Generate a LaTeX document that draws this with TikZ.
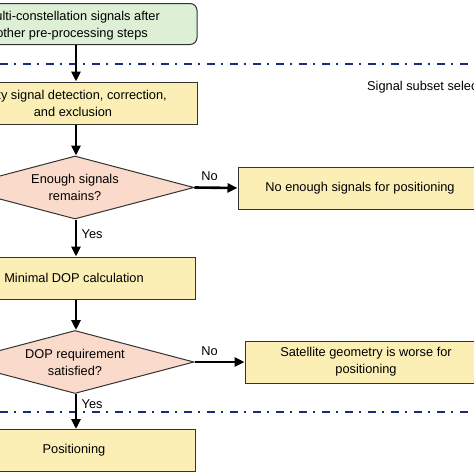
\documentclass[tikz,border=0pt]{standalone}
\usepackage{fontspec}
\setmainfont{Liberation Sans}
\usetikzlibrary{arrows.meta,shapes.geometric}
\definecolor{startgreen}{HTML}{DDF0D6}
\definecolor{boxyellow}{HTML}{FBEFB6}
\definecolor{decpink}{HTML}{FADACA}
\definecolor{phaseblue}{HTML}{1C2C7C}
\begin{document}
\begin{tikzpicture}[x=1pt,y=-1pt,font=\fontsize{12.8}{17}\selectfont,
    stepbox/.style={draw=black!80,line width=1pt,fill=boxyellow,minimum width=242pt,minimum height=42pt,align=center,inner sep=0pt},
    decision/.style={diamond,draw=black!80,line width=1pt,fill=decpink,minimum width=238pt,minimum height=63pt,shape aspect=3.8,align=center,inner sep=0pt},
    flow/.style={line width=2.6pt,-{Triangle[length=10pt,width=9pt]}},
    phase/.style={draw=phaseblue,line width=2.4pt,dash pattern=on 8pt off 6pt on 2pt off 7pt},
    plain/.style={inner sep=0pt,text height=9.2pt,text depth=2.6pt}]
    \useasboundingbox (0,0) rectangle (474,474);
    \clip (0,0) rectangle (474,474);
    \fill [white] (0,0) rectangle (474,474);

    \draw [phase] (0,64) -- (474,64);
    \draw [phase] (0,412) -- (474,412);
    \node [plain,anchor=west] (phasetxt) at (367,87) {Signal subset selec};

    \node [stepbox,fill=startgreen,rounded corners=7pt,minimum height=41pt] (input) at (76,24) {};
    \node [plain,anchor=east] (inputA) at (160,17) {ulti-constellation signals after};
    \node [plain,anchor=east] (inputB) at (148,34) {other pre-processing steps};

    \node [stepbox] (detect) at (76,103) {};
    \node [plain,anchor=east] (detectA) at (167,96) {ty signal detection, correction,};
    \node [plain] (detectB) at (73,113) {and exclusion};

    \node [decision] (enough) at (75,187.5) {Enough signals\\remains?};
    \node [stepbox,minimum width=244pt] (noenough) at (360,188) {No enough signals for positioning};

    \node [stepbox] (mindop) at (74,278) {Minimal DOP calculation};

    \node [decision] (dopok) at (75,362) {DOP requirement\\satisfied?};
    \node [stepbox] (worse) at (366,362) {Satellite geometry is worse for\\positioning};

    \node [stepbox] (pos) at (74,450.5) {Positioning};

    \draw [flow] (input.south -| 76,0) -- (detect.north -| 76,0);
    \draw [flow] (detect.south -| 76,0) -- (enough.north -| 76,0);
    \draw [flow] (enough.south -| 76,0) -- node [right,pos=0.4,xshift=1pt] {Yes} (mindop.north -| 76,0);
    \draw [flow] (mindop.south -| 76,0) -- (dopok.north -| 76,0);
    \draw [flow] (dopok.south -| 76,0) -- node [right,pos=0.3,xshift=1pt] {Yes} (pos.north -| 76,0);
    \draw [flow] (enough.east) -- node [above,pos=0.35,yshift=2pt] {No} (noenough.west);
    \draw [flow] (dopok.east) -- node [above,pos=0.3,yshift=2pt] {No} (worse.west);
\end{tikzpicture}
\end{document}
